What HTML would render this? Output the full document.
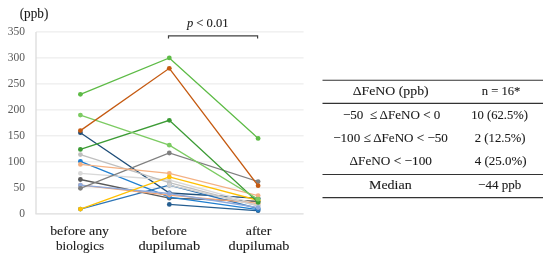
<!DOCTYPE html>
<html><head><meta charset="utf-8"><style>
html,body{margin:0;padding:0;background:#fff;}
body{width:550px;height:262px;position:relative;overflow:hidden;font-family:"Liberation Serif",serif;color:#222;}
svg{position:absolute;left:0;top:0;}
.yl text{font-family:"Liberation Serif",serif;font-size:11.5px;fill:#595959;}
.t{font-family:"Liberation Serif",serif;font-size:13px;fill:#1a1a1a;}
.xl{font-family:"Liberation Serif",serif;font-size:13.3px;fill:#1a1a1a;letter-spacing:0.3px}
.tb{font-family:"Liberation Serif",serif;font-size:13px;fill:#1a1a1a;letter-spacing:0.3px}
</style></head><body>
<svg width="550" height="262" viewBox="0 0 550 262">
<line x1="36" y1="187.8" x2="303.6" y2="187.8" stroke="#E8E8E8" stroke-width="1"/>
<line x1="36" y1="161.8" x2="303.6" y2="161.8" stroke="#E8E8E8" stroke-width="1"/>
<line x1="36" y1="135.8" x2="303.6" y2="135.8" stroke="#E8E8E8" stroke-width="1"/>
<line x1="36" y1="109.9" x2="303.6" y2="109.9" stroke="#E8E8E8" stroke-width="1"/>
<line x1="36" y1="83.9" x2="303.6" y2="83.9" stroke="#E8E8E8" stroke-width="1"/>
<line x1="36" y1="57.9" x2="303.6" y2="57.9" stroke="#E8E8E8" stroke-width="1"/>
<line x1="36" y1="31.9" x2="303.6" y2="31.9" stroke="#E8E8E8" stroke-width="1"/>
<line x1="36" y1="31.9" x2="36" y2="213.8" stroke="#DCDCDC" stroke-width="1.3"/>
<line x1="35.4" y1="213.8" x2="303.6" y2="213.8" stroke="#DCDCDC" stroke-width="1.3"/>
<polyline points="80.4,179.5 169.3,198.2 258.1,201.3" fill="none" stroke="#595959" stroke-width="1.3"/>
<circle cx="80.4" cy="179.5" r="2.4" fill="#595959"/>
<circle cx="169.3" cy="198.2" r="2.4" fill="#595959"/>
<circle cx="258.1" cy="201.3" r="2.4" fill="#595959"/>
<polyline points="80.4,132.7 169.3,193.0 258.1,198.2" fill="none" stroke="#1F4E79" stroke-width="1.3"/>
<circle cx="80.4" cy="132.7" r="2.4" fill="#1F4E79"/>
<circle cx="169.3" cy="193.0" r="2.4" fill="#1F4E79"/>
<circle cx="258.1" cy="198.2" r="2.4" fill="#1F4E79"/>
<polyline points="169.3,204.4 258.1,210.7" fill="none" stroke="#255E91" stroke-width="1.3"/>
<circle cx="169.3" cy="204.4" r="2.4" fill="#255E91"/>
<circle cx="258.1" cy="210.7" r="2.4" fill="#255E91"/>
<polyline points="80.4,161.3 169.3,197.2 258.1,209.6" fill="none" stroke="#1F7FD0" stroke-width="1.3"/>
<circle cx="80.4" cy="161.3" r="2.4" fill="#1F7FD0"/>
<circle cx="169.3" cy="197.2" r="2.4" fill="#1F7FD0"/>
<circle cx="258.1" cy="209.6" r="2.4" fill="#1F7FD0"/>
<polyline points="80.4,209.1 169.3,185.2 258.1,208.6" fill="none" stroke="#2E75B6" stroke-width="1.3"/>
<circle cx="80.4" cy="209.1" r="2.4" fill="#2E75B6"/>
<circle cx="169.3" cy="185.2" r="2.4" fill="#2E75B6"/>
<circle cx="258.1" cy="208.6" r="2.4" fill="#2E75B6"/>
<polyline points="80.4,173.3 169.3,180.0 258.1,204.4" fill="none" stroke="#D9D9D9" stroke-width="1.3"/>
<circle cx="80.4" cy="173.3" r="2.4" fill="#D9D9D9"/>
<circle cx="169.3" cy="180.0" r="2.4" fill="#D9D9D9"/>
<circle cx="258.1" cy="204.4" r="2.4" fill="#D9D9D9"/>
<polyline points="80.4,154.6 169.3,182.6 258.1,206.0" fill="none" stroke="#BFBFBF" stroke-width="1.3"/>
<circle cx="80.4" cy="154.6" r="2.4" fill="#BFBFBF"/>
<circle cx="169.3" cy="182.6" r="2.4" fill="#BFBFBF"/>
<circle cx="258.1" cy="206.0" r="2.4" fill="#BFBFBF"/>
<polyline points="80.4,185.2 169.3,195.1 258.1,203.4" fill="none" stroke="#F4A676" stroke-width="1.3"/>
<circle cx="80.4" cy="185.2" r="2.4" fill="#F4A676"/>
<circle cx="169.3" cy="195.1" r="2.4" fill="#F4A676"/>
<circle cx="258.1" cy="203.4" r="2.4" fill="#F4A676"/>
<polyline points="169.3,185.2 258.1,205.5" fill="none" stroke="#CFCFCF" stroke-width="1.3"/>
<circle cx="169.3" cy="185.2" r="2.4" fill="#CFCFCF"/>
<circle cx="258.1" cy="205.5" r="2.4" fill="#CFCFCF"/>
<polyline points="80.4,185.2 169.3,193.5 258.1,207.6" fill="none" stroke="#8FAADC" stroke-width="1.3"/>
<circle cx="80.4" cy="185.2" r="2.4" fill="#8FAADC"/>
<circle cx="169.3" cy="193.5" r="2.4" fill="#8FAADC"/>
<circle cx="258.1" cy="207.6" r="2.4" fill="#8FAADC"/>
<polyline points="80.4,188.3 169.3,153.0 258.1,181.6" fill="none" stroke="#7F7F7F" stroke-width="1.3"/>
<circle cx="80.4" cy="188.3" r="2.4" fill="#7F7F7F"/>
<circle cx="169.3" cy="153.0" r="2.4" fill="#7F7F7F"/>
<circle cx="258.1" cy="181.6" r="2.4" fill="#7F7F7F"/>
<polyline points="80.4,164.4 169.3,173.3 258.1,195.6" fill="none" stroke="#F4B183" stroke-width="1.3"/>
<circle cx="80.4" cy="164.4" r="2.4" fill="#F4B183"/>
<circle cx="169.3" cy="173.3" r="2.4" fill="#F4B183"/>
<circle cx="258.1" cy="195.6" r="2.4" fill="#F4B183"/>
<polyline points="80.4,209.1 169.3,176.9 258.1,200.3" fill="none" stroke="#FFC000" stroke-width="1.3"/>
<circle cx="80.4" cy="209.1" r="2.4" fill="#FFC000"/>
<circle cx="169.3" cy="176.9" r="2.4" fill="#FFC000"/>
<circle cx="258.1" cy="200.3" r="2.4" fill="#FFC000"/>
<polyline points="80.4,149.4 169.3,120.3 258.1,202.4" fill="none" stroke="#3C9B35" stroke-width="1.3"/>
<circle cx="80.4" cy="149.4" r="2.4" fill="#3C9B35"/>
<circle cx="169.3" cy="120.3" r="2.4" fill="#3C9B35"/>
<circle cx="258.1" cy="202.4" r="2.4" fill="#3C9B35"/>
<polyline points="80.4,115.1 169.3,145.2 258.1,199.2" fill="none" stroke="#7CCB62" stroke-width="1.3"/>
<circle cx="80.4" cy="115.1" r="2.4" fill="#7CCB62"/>
<circle cx="169.3" cy="145.2" r="2.4" fill="#7CCB62"/>
<circle cx="258.1" cy="199.2" r="2.4" fill="#7CCB62"/>
<polyline points="80.4,130.6 169.3,68.3 258.1,185.7" fill="none" stroke="#C55A11" stroke-width="1.3"/>
<circle cx="80.4" cy="130.6" r="2.4" fill="#C55A11"/>
<circle cx="169.3" cy="68.3" r="2.4" fill="#C55A11"/>
<circle cx="258.1" cy="185.7" r="2.4" fill="#C55A11"/>
<polyline points="80.4,94.3 169.3,57.9 258.1,138.4" fill="none" stroke="#5DBB46" stroke-width="1.3"/>
<circle cx="80.4" cy="94.3" r="2.4" fill="#5DBB46"/>
<circle cx="169.3" cy="57.9" r="2.4" fill="#5DBB46"/>
<circle cx="258.1" cy="138.4" r="2.4" fill="#5DBB46"/>
<path d="M168.5,38.6 V35.9 H257.6 V38.6" fill="none" stroke="#404040" stroke-width="1.2"/>
<g class="yl">
<text x="25" y="217.1" text-anchor="end">0</text>
<text x="25" y="191.1" text-anchor="end">50</text>
<text x="25" y="165.1" text-anchor="end">100</text>
<text x="25" y="139.1" text-anchor="end">150</text>
<text x="25" y="113.2" text-anchor="end">200</text>
<text x="25" y="87.2" text-anchor="end">250</text>
<text x="25" y="61.2" text-anchor="end">300</text>
<text x="25" y="35.2" text-anchor="end">350</text>
</g>
<g font-family="Liberation Serif" fill="#1a1a1a" stroke="#1a1a1a" stroke-width="0.1"><text x="19.70" y="18.3" font-size="13.9" textLength="28.59" lengthAdjust="spacingAndGlyphs">(ppb)</text>
<text x="186.90" y="26.5" font-size="12.8" textLength="41.75" lengthAdjust="spacingAndGlyphs"><tspan font-style="italic">p</tspan> &lt; 0.01</text>
<text x="50.20" y="234.8" font-size="13.3" textLength="58.87" lengthAdjust="spacingAndGlyphs">before any</text>
<text x="56.00" y="249.5" font-size="13.3" textLength="48.23" lengthAdjust="spacingAndGlyphs">biologics</text>
<text x="151.60" y="234.8" font-size="13.3" textLength="35.43" lengthAdjust="spacingAndGlyphs">before</text>
<text x="138.40" y="249.5" font-size="13.3" textLength="61.80" lengthAdjust="spacingAndGlyphs">dupilumab</text>
<text x="245.70" y="234.8" font-size="13.3" textLength="25.61" lengthAdjust="spacingAndGlyphs">after</text>
<text x="228.50" y="249.5" font-size="13.3" textLength="60.98" lengthAdjust="spacingAndGlyphs">dupilumab</text>
<text x="352.70" y="95.1" font-size="13" textLength="75.95" lengthAdjust="spacingAndGlyphs">ΔFeNO (ppb)</text>
<text x="481.70" y="95.1" font-size="13" textLength="38.59" lengthAdjust="spacingAndGlyphs">n = 16*</text>
<text x="342.90" y="119" font-size="13" textLength="97.46" lengthAdjust="spacingAndGlyphs">−50 &#160;≤ ΔFeNO &lt; 0</text>
<text x="471.20" y="119" font-size="13" textLength="56.72" lengthAdjust="spacingAndGlyphs">10 (62.5%)</text>
<text x="333.20" y="142" font-size="13" textLength="114.71" lengthAdjust="spacingAndGlyphs">−100 ≤ ΔFeNO &lt; −50</text>
<text x="474.80" y="142.2" font-size="13" textLength="50.75" lengthAdjust="spacingAndGlyphs">2 (12.5%)</text>
<text x="349.50" y="165.4" font-size="13" textLength="82.43" lengthAdjust="spacingAndGlyphs">ΔFeNO &lt; −100</text>
<text x="474.70" y="165.2" font-size="13" textLength="51.86" lengthAdjust="spacingAndGlyphs">4 (25.0%)</text>
<text x="369.00" y="189" font-size="13" textLength="42.68" lengthAdjust="spacingAndGlyphs">Median</text>
<text x="478.10" y="189" font-size="13" textLength="43.21" lengthAdjust="spacingAndGlyphs">−44 ppb</text></g>
<g stroke="#333" stroke-width="1.1">
<line x1="322.5" y1="80.2" x2="543" y2="80.2"/>
<line x1="322.5" y1="103.4" x2="543" y2="103.4"/>
<line x1="322.5" y1="174.5" x2="543" y2="174.5"/>
<line x1="322.5" y1="197.6" x2="543" y2="197.6"/>
</g>
</svg>
</body></html>
